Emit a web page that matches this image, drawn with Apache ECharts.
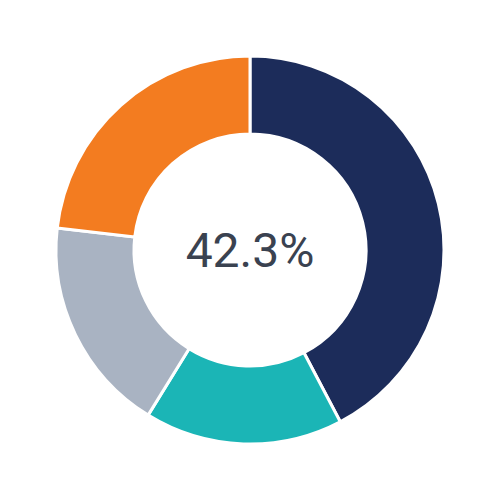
<!DOCTYPE html>
<html><head><meta charset="utf-8">
<script src="https://cdn.jsdelivr.net/npm/echarts@6/dist/echarts.min.js"></script>
<style>html,body{margin:0;padding:0;background:#fff}#c{width:500px;height:500px}</style>
</head><body><div id="c"></div>
<script>
const categories = ['A', 'B', 'C', 'D'];
const values = [42.3, 16.5, 18.0, 23.2];
const colors = ['#1c2c5a', '#1bb5b6', '#a9b3c2', '#f37c20'];
const centerLabel = '42.3%';

const chart = echarts.init(document.getElementById('c'), null, {renderer: 'svg'});
chart.setOption({
  animation: false,
  color: colors,
  title: {
    text: centerLabel, left: 'center', top: 'middle',
    textStyle: {fontFamily: 'Roboto', fontSize: 48, fontWeight: 400, color: '#3a4250'}
  },
  series: [{
    type: 'pie',
    center: ['50%', '50%'],
    radius: [116, 194],
    startAngle: 90,
    clockwise: true,
    label: {show: false},
    labelLine: {show: false},
    itemStyle: {borderColor: '#fff', borderWidth: 3},
    data: categories.map((c, i) => ({name: c, value: values[i]}))
  }]
});
</script></body></html>
